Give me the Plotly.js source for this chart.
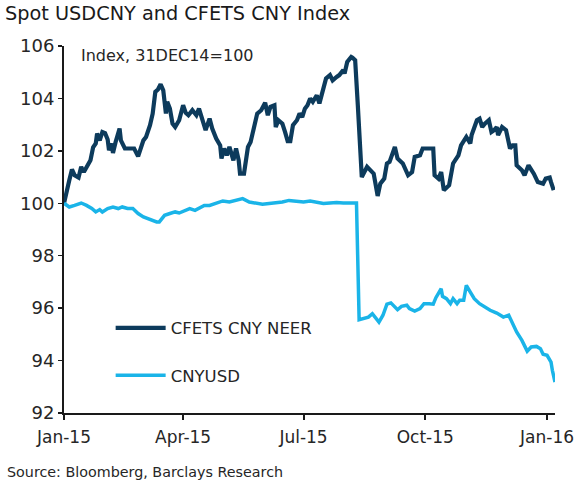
<!DOCTYPE html>
<html>
<head>
<meta charset="utf-8">
<script src="https://cdn.plot.ly/plotly-3.0.1.min.js"></script>
<style>
html,body{margin:0;padding:0;background:#fff;}
#chart{width:587px;height:489px;}
</style>
</head>
<body>
<div id="chart"></div>
<script>
// CFETS CNY NEER (Index, 31DEC14=100)
var neerDates = [
"2015-01-01","2015-01-03","2015-01-05","2015-01-07","2015-01-09","2015-01-12","2015-01-14","2015-01-16","2015-01-18","2015-01-21",
"2015-01-23","2015-01-25","2015-01-26","2015-01-28","2015-01-30","2015-02-01","2015-02-03","2015-02-04","2015-02-06","2015-02-07",
"2015-02-09","2015-02-10","2015-02-12","2015-02-13","2015-02-16","2015-02-20","2015-02-23","2015-02-26","2015-02-28","2015-03-02",
"2015-03-04","2015-03-07","2015-03-09","2015-03-11","2015-03-13","2015-03-15","2015-03-17","2015-03-19","2015-03-20","2015-03-22",
"2015-03-24","2015-03-26","2015-03-29","2015-03-31","2015-04-01","2015-04-03","2015-04-05","2015-04-08","2015-04-11","2015-04-13",
"2015-04-16","2015-04-18","2015-04-21","2015-04-23","2015-04-26","2015-04-29","2015-04-30","2015-05-02","2015-05-04","2015-05-06",
"2015-05-09","2015-05-11","2015-05-13","2015-05-14","2015-05-17","2015-05-20","2015-05-22","2015-05-24","2015-05-27","2015-05-30",
"2015-06-02","2015-06-04","2015-06-06","2015-06-09","2015-06-10","2015-06-12","2015-06-15","2015-06-17","2015-06-19","2015-06-21",
"2015-06-23","2015-06-26","2015-06-28","2015-06-30","2015-07-02","2015-07-04","2015-07-06","2015-07-08","2015-07-11","2015-07-13",
"2015-07-16","2015-07-18","2015-07-21","2015-07-23","2015-07-26","2015-07-28","2015-07-31","2015-08-01","2015-08-03","2015-08-06",
"2015-08-07","2015-08-09","2015-08-11","2015-08-14","2015-08-18","2015-08-23","2015-08-26","2015-08-28","2015-08-31","2015-09-02",
"2015-09-04","2015-09-08","2015-09-10","2015-09-14","2015-09-18","2015-09-21","2015-09-23","2015-09-27","2015-09-29","2015-10-07",
"2015-10-08","2015-10-11","2015-10-13","2015-10-15","2015-10-19","2015-10-22","2015-10-26","2015-10-28","2015-11-01","2015-11-04",
"2015-11-05","2015-11-09","2015-11-11","2015-11-13","2015-11-15","2015-11-18","2015-11-20","2015-11-22","2015-11-24","2015-11-25",
"2015-11-28","2015-12-01","2015-12-04","2015-12-06","2015-12-08","2015-12-09","2015-12-13","2015-12-15","2015-12-18","2015-12-22",
"2015-12-25","2015-12-29","2015-12-31","2016-01-03","2016-01-04","2016-01-06"
];
var neerValues = [
100.0,100.37,100.88,101.29,101.07,100.98,101.39,101.19,101.39,101.64,
102.13,102.28,102.66,102.40,102.72,102.68,102.43,102.02,102.28,101.92,
102.34,102.53,102.85,102.40,102.09,102.09,102.09,101.79,102.15,102.40,
102.53,102.98,103.42,104.25,104.34,104.54,104.31,103.42,103.87,103.61,
103.04,102.91,103.17,103.55,103.74,103.45,103.36,103.55,103.36,103.61,
103.10,102.79,103.23,102.85,102.47,102.21,101.71,102.09,101.83,102.15,
101.64,102.09,101.64,101.13,101.13,102.15,102.34,102.79,103.42,103.55,
103.84,103.36,103.68,103.74,102.91,103.17,103.04,102.72,102.37,102.37,
102.98,103.17,103.42,103.29,103.61,103.74,104.00,103.87,104.12,103.81,
104.38,104.76,104.89,104.69,104.82,104.89,105.08,104.95,105.39,105.58,
105.55,105.46,103.74,101.00,101.39,101.13,100.28,100.75,100.94,101.52,
101.58,102.15,101.71,101.52,101.07,101.19,101.77,101.83,102.09,102.09,
101.07,100.94,101.19,100.50,100.69,101.52,101.83,102.21,102.53,102.28,
102.60,103.17,103.23,102.91,103.04,103.17,102.72,102.79,102.91,102.60,
102.91,102.79,102.09,102.21,102.21,101.45,101.26,101.07,101.45,101.13,
100.81,100.75,100.94,100.98,100.81,100.50
];

// CNYUSD (Index, 31DEC14=100)
var cnyDates = [
"2015-01-01","2015-01-05","2015-01-09","2015-01-14","2015-01-18","2015-01-22","2015-01-25","2015-01-28","2015-01-30","2015-02-03",
"2015-02-07","2015-02-11","2015-02-14","2015-02-18","2015-02-22","2015-02-26","2015-03-02","2015-03-07","2015-03-12","2015-03-14",
"2015-03-18","2015-03-22","2015-03-26","2015-03-29","2015-04-02","2015-04-06","2015-04-10","2015-04-13","2015-04-17","2015-04-21",
"2015-04-26","2015-05-01","2015-05-06","2015-05-11","2015-05-16","2015-05-21","2015-05-26","2015-05-31","2015-06-05","2015-06-10",
"2015-06-15","2015-06-20","2015-06-25","2015-07-01","2015-07-06","2015-07-11","2015-07-16","2015-07-21","2015-07-26","2015-07-31",
"2015-08-05","2015-08-10","2015-08-12","2015-08-16","2015-08-19","2015-08-22","2015-08-24","2015-08-27","2015-08-30","2015-09-02",
"2015-09-05","2015-09-10","2015-09-13","2015-09-17","2015-09-19","2015-09-23","2015-09-27","2015-09-30","2015-10-04","2015-10-07",
"2015-10-09","2015-10-13","2015-10-14","2015-10-17","2015-10-20","2015-10-22","2015-10-25","2015-10-27","2015-10-30","2015-11-01",
"2015-11-04","2015-11-07","2015-11-11","2015-11-15","2015-11-19","2015-11-24","2015-11-29","2015-12-03","2015-12-05","2015-12-09",
"2015-12-13","2015-12-17","2015-12-20","2015-12-24","2015-12-27","2015-12-29","2016-01-01","2016-01-04","2016-01-05","2016-01-07"
];
var cnyValues = [
100.0,99.86,99.92,100.01,99.92,99.80,99.67,99.76,99.67,99.80,
99.86,99.80,99.86,99.80,99.80,99.61,99.48,99.38,99.29,99.29,
99.54,99.61,99.67,99.63,99.73,99.80,99.73,99.80,99.92,99.92,
99.99,100.09,100.05,100.11,100.18,100.05,100.01,99.96,99.99,100.01,
100.05,100.11,100.08,100.05,100.09,100.05,99.99,100.01,100.03,100.01,
100.01,100.01,95.56,95.60,95.66,95.79,95.66,95.47,95.73,96.15,
96.20,95.94,96.07,96.11,95.98,95.89,95.98,96.17,96.17,96.15,
96.40,96.74,96.45,96.36,96.17,96.36,96.17,96.30,96.30,96.87,
96.61,96.36,96.17,96.04,95.92,95.81,95.66,95.73,95.53,95.09,
94.77,94.36,94.52,94.54,94.45,94.24,94.20,93.94,93.63,93.18
];

var tickDates = ["2015-01-01","2015-04-01","2015-07-01","2015-10-01","2016-01-01"];
var tickLabels = ["Jan-15","Apr-15","Jul-15","Oct-15","Jan-16"];
var yTicks = [92,94,96,98,100,102,104,106];

var FONT = "DejaVu Sans, sans-serif";
var TXT = "#262626";

var traces = [
  {x: neerDates, y: neerValues, name: "CFETS CNY NEER", type: "scatter", mode: "lines",
   line: {color: "#0d3b5c", width: 4.2}, legendgroup: "a"},
  {x: cnyDates, y: cnyValues, name: "CNYUSD", type: "scatter", mode: "lines",
   line: {color: "#1ab4e8", width: 3.5}, legendgroup: "b"}
];

var layout = {
  width: 587, height: 489,
  margin: {l: 64, r: 32, t: 46, b: 76},
  paper_bgcolor: "#ffffff", plot_bgcolor: "#ffffff",
  font: {family: FONT, color: TXT, size: 15},
  title: {text: "Spot USDCNY and CFETS CNY Index", x: 5/587, xanchor: "left", xref: "container",
          y: 0.972, yanchor: "middle", yref: "container",
          font: {family: FONT, size: 19.3, color: "#1a1a1a"}},
  xaxis: {
    type: "date", range: ["2015-01-01", "2016-01-07"],
    tickmode: "array", tickvals: tickDates, ticktext: tickLabels,
    showgrid: false, zeroline: false, showline: true, linecolor: "#1a1a1a", linewidth: 2,
    ticks: "outside", ticklen: 5, tickwidth: 2, tickcolor: "#1a1a1a",
    ticklabelstandoff: 3,
    tickfont: {family: FONT, size: 17, color: TXT}
  },
  yaxis: {
    range: [92, 106], tickmode: "array", tickvals: yTicks,
    showgrid: false, zeroline: false, showline: true, linecolor: "#1a1a1a", linewidth: 2,
    ticks: "outside", ticklen: 4, tickwidth: 1.5, tickcolor: "#1a1a1a",
    tickfont: {family: FONT, size: 18, color: TXT}
  },
  showlegend: true,
  legend: {x: 0.095, xanchor: "left", y: 0.279, yanchor: "top", bgcolor: "rgba(0,0,0,0)",
           font: {family: FONT, size: 16.5, color: TXT}, tracegroupgap: 23, itemwidth: 50},
  annotations: [
    {text: "Index, 31DEC14=100", xref: "paper", yref: "paper", x: 0.031, y: 0.973,
     xanchor: "left", yanchor: "middle", showarrow: false,
     font: {family: FONT, size: 16, color: TXT}},
    {text: "Source: Bloomberg, Barclays Research", xref: "paper", yref: "paper",
     x: -0.12, y: -0.16, xanchor: "left", yanchor: "middle", showarrow: false,
     font: {family: FONT, size: 14.3, color: TXT}}
  ]
};

Plotly.newPlot("chart", traces, layout, {staticPlot: true, displayModeBar: false});
</script>
</body>
</html>
